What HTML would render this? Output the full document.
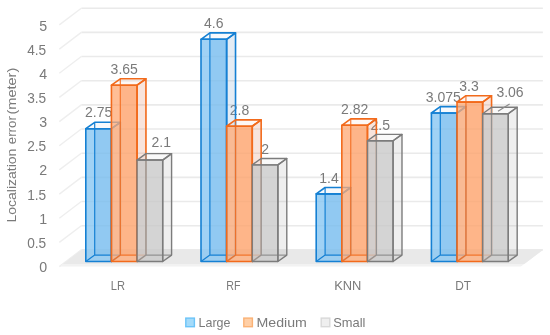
<!DOCTYPE html>
<html lang="en"><head><meta charset="utf-8"><title>Localization error chart</title>
<style>
html,body{margin:0;padding:0;background:#fff;}
body{width:550px;height:335px;overflow:hidden;}
svg{display:block;}
</style></head><body>
<svg width="550" height="335" viewBox="0 0 550 335">
<rect width="550" height="335" fill="#ffffff"/>
<g fill="none" stroke="#eaeaea" stroke-width="1.6">
<path d="M81.3,249.9 H542.9"/>
<path d="M59.3,266.6 L81.3,249.9" stroke="#eeeeee" stroke-width="1.4"/>
<path d="M81.3,225.73 H542.9"/>
<path d="M59.3,242.43 L81.3,225.73" stroke="#eeeeee" stroke-width="1.4"/>
<path d="M81.3,201.56 H542.9"/>
<path d="M59.3,218.26 L81.3,201.56" stroke="#eeeeee" stroke-width="1.4"/>
<path d="M81.3,177.39 H542.9"/>
<path d="M59.3,194.09 L81.3,177.39" stroke="#eeeeee" stroke-width="1.4"/>
<path d="M81.3,153.22 H542.9"/>
<path d="M59.3,169.92 L81.3,153.22" stroke="#eeeeee" stroke-width="1.4"/>
<path d="M81.3,129.05 H542.9"/>
<path d="M59.3,145.75 L81.3,129.05" stroke="#eeeeee" stroke-width="1.4"/>
<path d="M81.3,104.88 H542.9"/>
<path d="M59.3,121.58 L81.3,104.88" stroke="#eeeeee" stroke-width="1.4"/>
<path d="M81.3,80.71 H542.9"/>
<path d="M59.3,97.41 L81.3,80.71" stroke="#eeeeee" stroke-width="1.4"/>
<path d="M81.3,56.54 H542.9"/>
<path d="M59.3,73.24 L81.3,56.54" stroke="#eeeeee" stroke-width="1.4"/>
<path d="M81.3,32.37 H542.9"/>
<path d="M59.3,49.07 L81.3,32.37" stroke="#eeeeee" stroke-width="1.4"/>
<path d="M81.3,8.2 H542.9"/>
<path d="M59.3,24.9 L81.3,8.2" stroke="#eeeeee" stroke-width="1.4"/>
</g>
<polygon points="59.3,266.6 81.3,249.9 542.9,249.9 520.9,266.6" fill="#f2f2f2"/>
<polygon points="62.73,264 81.3,249.9 542.9,249.9 524.33,264" fill="#e9e9e9"/>
<g font-family='"Liberation Sans", sans-serif' font-size="14" fill="#7a7a7a" text-anchor="middle">
<text x="98.61" y="117.48">2.75</text>
<text x="124.24" y="74.01">3.65</text>
<text x="161.3" y="147.3">2.1</text>
<text x="213.81" y="28.12">4.6</text>
<text x="239.44" y="115.06">2.8</text>
<text x="265.07" y="153.7">2</text>
<text x="329.01" y="182.68">1.4</text>
<text x="354.64" y="114.09">2.82</text>
<text x="380.27" y="129.55">2.5</text>
<text x="443.32" y="101.78">3.075</text>
<text x="468.95" y="90.91">3.3</text>
<text x="510" y="97.3">3.06</text>
</g>
<g>
<polygon points="111.43,261.5 120.33,255.1 120.33,122.28 111.43,128.68" fill="rgba(120,160,200,0.20)"/>
<polygon points="85.8,128.68 111.43,128.68 120.33,122.28 94.7,122.28" fill="rgba(120,160,200,0.06)"/>
<polygon points="85.8,261.5 111.43,261.5 111.43,128.68 85.8,128.68" fill="rgba(130,196,242,0.76)"/>
<polygon points="94.7,255.1 111.43,255.1 111.43,128.68 94.7,128.68" fill="rgba(21,128,211,0.10)"/>
<path d="M94.7,122.28 V255.1 H120.33 M85.8,261.5 L94.7,255.1" fill="none" stroke="#1580d3" stroke-width="1.2" stroke-opacity="1"/>
<polygon points="111.43,261.5 120.33,255.1 120.33,122.28 111.43,128.68" fill="none" stroke="#1580d3" stroke-width="1.6" stroke-linejoin="round"/>
<polygon points="85.8,128.68 111.43,128.68 120.33,122.28 94.7,122.28" fill="none" stroke="#1580d3" stroke-width="1.6" stroke-linejoin="round"/>
<polygon points="85.8,261.5 111.43,261.5 111.43,128.68 85.8,128.68" fill="none" stroke="#1580d3" stroke-width="1.6" stroke-linejoin="round"/>
</g>
<g>
<polygon points="137.06,261.5 145.96,255.1 145.96,78.81 137.06,85.21" fill="rgba(220,120,80,0.20)"/>
<polygon points="111.43,85.21 137.06,85.21 145.96,78.81 120.33,78.81" fill="rgba(220,120,80,0.06)"/>
<polygon points="111.43,261.5 137.06,261.5 137.06,85.21 111.43,85.21" fill="rgba(255,170,117,0.76)"/>
<polygon points="120.33,255.1 137.06,255.1 137.06,85.21 120.33,85.21" fill="rgba(242,106,27,0.10)"/>
<path d="M120.33,78.81 V255.1 H145.96 M111.43,261.5 L120.33,255.1" fill="none" stroke="#f26a1b" stroke-width="1.2" stroke-opacity="0.85"/>
<polygon points="137.06,261.5 145.96,255.1 145.96,78.81 137.06,85.21" fill="none" stroke="#f26a1b" stroke-width="1.6" stroke-linejoin="round"/>
<polygon points="111.43,85.21 137.06,85.21 145.96,78.81 120.33,78.81" fill="none" stroke="#f26a1b" stroke-width="1.6" stroke-linejoin="round"/>
<polygon points="111.43,261.5 137.06,261.5 137.06,85.21 111.43,85.21" fill="none" stroke="#f26a1b" stroke-width="1.6" stroke-linejoin="round"/>
</g>
<g>
<polygon points="162.69,261.5 171.59,255.1 171.59,153.67 162.69,160.07" fill="rgba(155,155,155,0.16)"/>
<polygon points="137.06,160.07 162.69,160.07 171.59,153.67 145.96,153.67" fill="rgba(155,155,155,0.06)"/>
<polygon points="137.06,261.5 162.69,261.5 162.69,160.07 137.06,160.07" fill="rgba(198,198,198,0.76)"/>
<polygon points="145.96,255.1 162.69,255.1 162.69,160.07 145.96,160.07" fill="rgba(133,133,133,0.0)"/>
<path d="M145.96,153.67 V255.1 H171.59 M137.06,261.5 L145.96,255.1" fill="none" stroke="#939393" stroke-width="1.2" stroke-opacity="1"/>
<polygon points="162.69,261.5 171.59,255.1 171.59,153.67 162.69,160.07" fill="none" stroke="#7c7c7c" stroke-width="1.4" stroke-linejoin="round"/>
<polygon points="137.06,160.07 162.69,160.07 171.59,153.67 145.96,153.67" fill="none" stroke="#7c7c7c" stroke-width="1.4" stroke-linejoin="round"/>
<polygon points="137.06,261.5 162.69,261.5 162.69,160.07 137.06,160.07" fill="none" stroke="#7c7c7c" stroke-width="1.4" stroke-linejoin="round"/>
</g>
<g>
<polygon points="226.63,261.5 235.53,255.1 235.53,32.92 226.63,39.32" fill="rgba(120,160,200,0.20)"/>
<polygon points="201,39.32 226.63,39.32 235.53,32.92 209.9,32.92" fill="rgba(120,160,200,0.06)"/>
<polygon points="201,261.5 226.63,261.5 226.63,39.32 201,39.32" fill="rgba(130,196,242,0.76)"/>
<polygon points="209.9,255.1 226.63,255.1 226.63,39.32 209.9,39.32" fill="rgba(21,128,211,0.10)"/>
<path d="M209.9,32.92 V255.1 H235.53 M201,261.5 L209.9,255.1" fill="none" stroke="#1580d3" stroke-width="1.2" stroke-opacity="1"/>
<polygon points="226.63,261.5 235.53,255.1 235.53,32.92 226.63,39.32" fill="none" stroke="#1580d3" stroke-width="1.6" stroke-linejoin="round"/>
<polygon points="201,39.32 226.63,39.32 235.53,32.92 209.9,32.92" fill="none" stroke="#1580d3" stroke-width="1.6" stroke-linejoin="round"/>
<polygon points="201,261.5 226.63,261.5 226.63,39.32 201,39.32" fill="none" stroke="#1580d3" stroke-width="1.6" stroke-linejoin="round"/>
</g>
<g>
<polygon points="252.26,261.5 261.16,255.1 261.16,119.86 252.26,126.26" fill="rgba(220,120,80,0.20)"/>
<polygon points="226.63,126.26 252.26,126.26 261.16,119.86 235.53,119.86" fill="rgba(220,120,80,0.06)"/>
<polygon points="226.63,261.5 252.26,261.5 252.26,126.26 226.63,126.26" fill="rgba(255,170,117,0.76)"/>
<polygon points="235.53,255.1 252.26,255.1 252.26,126.26 235.53,126.26" fill="rgba(242,106,27,0.10)"/>
<path d="M235.53,119.86 V255.1 H261.16 M226.63,261.5 L235.53,255.1" fill="none" stroke="#f26a1b" stroke-width="1.2" stroke-opacity="0.85"/>
<polygon points="252.26,261.5 261.16,255.1 261.16,119.86 252.26,126.26" fill="none" stroke="#f26a1b" stroke-width="1.6" stroke-linejoin="round"/>
<polygon points="226.63,126.26 252.26,126.26 261.16,119.86 235.53,119.86" fill="none" stroke="#f26a1b" stroke-width="1.6" stroke-linejoin="round"/>
<polygon points="226.63,261.5 252.26,261.5 252.26,126.26 226.63,126.26" fill="none" stroke="#f26a1b" stroke-width="1.6" stroke-linejoin="round"/>
</g>
<g>
<polygon points="277.89,261.5 286.79,255.1 286.79,158.5 277.89,164.9" fill="rgba(155,155,155,0.16)"/>
<polygon points="252.26,164.9 277.89,164.9 286.79,158.5 261.16,158.5" fill="rgba(155,155,155,0.06)"/>
<polygon points="252.26,261.5 277.89,261.5 277.89,164.9 252.26,164.9" fill="rgba(198,198,198,0.76)"/>
<polygon points="261.16,255.1 277.89,255.1 277.89,164.9 261.16,164.9" fill="rgba(133,133,133,0.0)"/>
<path d="M261.16,158.5 V255.1 H286.79 M252.26,261.5 L261.16,255.1" fill="none" stroke="#939393" stroke-width="1.2" stroke-opacity="1"/>
<polygon points="277.89,261.5 286.79,255.1 286.79,158.5 277.89,164.9" fill="none" stroke="#7c7c7c" stroke-width="1.4" stroke-linejoin="round"/>
<polygon points="252.26,164.9 277.89,164.9 286.79,158.5 261.16,158.5" fill="none" stroke="#7c7c7c" stroke-width="1.4" stroke-linejoin="round"/>
<polygon points="252.26,261.5 277.89,261.5 277.89,164.9 252.26,164.9" fill="none" stroke="#7c7c7c" stroke-width="1.4" stroke-linejoin="round"/>
</g>
<g>
<polygon points="341.83,261.5 350.73,255.1 350.73,187.48 341.83,193.88" fill="rgba(120,160,200,0.20)"/>
<polygon points="316.2,193.88 341.83,193.88 350.73,187.48 325.1,187.48" fill="rgba(120,160,200,0.06)"/>
<polygon points="316.2,261.5 341.83,261.5 341.83,193.88 316.2,193.88" fill="rgba(130,196,242,0.76)"/>
<polygon points="325.1,255.1 341.83,255.1 341.83,193.88 325.1,193.88" fill="rgba(21,128,211,0.10)"/>
<path d="M325.1,187.48 V255.1 H350.73 M316.2,261.5 L325.1,255.1" fill="none" stroke="#1580d3" stroke-width="1.2" stroke-opacity="1"/>
<polygon points="341.83,261.5 350.73,255.1 350.73,187.48 341.83,193.88" fill="none" stroke="#1580d3" stroke-width="1.6" stroke-linejoin="round"/>
<polygon points="316.2,193.88 341.83,193.88 350.73,187.48 325.1,187.48" fill="none" stroke="#1580d3" stroke-width="1.6" stroke-linejoin="round"/>
<polygon points="316.2,261.5 341.83,261.5 341.83,193.88 316.2,193.88" fill="none" stroke="#1580d3" stroke-width="1.6" stroke-linejoin="round"/>
</g>
<g>
<polygon points="367.46,261.5 376.36,255.1 376.36,118.89 367.46,125.29" fill="rgba(220,120,80,0.20)"/>
<polygon points="341.83,125.29 367.46,125.29 376.36,118.89 350.73,118.89" fill="rgba(220,120,80,0.06)"/>
<polygon points="341.83,261.5 367.46,261.5 367.46,125.29 341.83,125.29" fill="rgba(255,170,117,0.76)"/>
<polygon points="350.73,255.1 367.46,255.1 367.46,125.29 350.73,125.29" fill="rgba(242,106,27,0.10)"/>
<path d="M350.73,118.89 V255.1 H376.36 M341.83,261.5 L350.73,255.1" fill="none" stroke="#f26a1b" stroke-width="1.2" stroke-opacity="0.85"/>
<polygon points="367.46,261.5 376.36,255.1 376.36,118.89 367.46,125.29" fill="none" stroke="#f26a1b" stroke-width="1.6" stroke-linejoin="round"/>
<polygon points="341.83,125.29 367.46,125.29 376.36,118.89 350.73,118.89" fill="none" stroke="#f26a1b" stroke-width="1.6" stroke-linejoin="round"/>
<polygon points="341.83,261.5 367.46,261.5 367.46,125.29 341.83,125.29" fill="none" stroke="#f26a1b" stroke-width="1.6" stroke-linejoin="round"/>
</g>
<g>
<polygon points="393.09,261.5 401.99,255.1 401.99,134.35 393.09,140.75" fill="rgba(155,155,155,0.16)"/>
<polygon points="367.46,140.75 393.09,140.75 401.99,134.35 376.36,134.35" fill="rgba(155,155,155,0.06)"/>
<polygon points="367.46,261.5 393.09,261.5 393.09,140.75 367.46,140.75" fill="rgba(198,198,198,0.76)"/>
<polygon points="376.36,255.1 393.09,255.1 393.09,140.75 376.36,140.75" fill="rgba(133,133,133,0.0)"/>
<path d="M376.36,134.35 V255.1 H401.99 M367.46,261.5 L376.36,255.1" fill="none" stroke="#939393" stroke-width="1.2" stroke-opacity="1"/>
<polygon points="393.09,261.5 401.99,255.1 401.99,134.35 393.09,140.75" fill="none" stroke="#7c7c7c" stroke-width="1.4" stroke-linejoin="round"/>
<polygon points="367.46,140.75 393.09,140.75 401.99,134.35 376.36,134.35" fill="none" stroke="#7c7c7c" stroke-width="1.4" stroke-linejoin="round"/>
<polygon points="367.46,261.5 393.09,261.5 393.09,140.75 367.46,140.75" fill="none" stroke="#7c7c7c" stroke-width="1.4" stroke-linejoin="round"/>
</g>
<g>
<polygon points="457.03,261.5 465.93,255.1 465.93,106.58 457.03,112.98" fill="rgba(120,160,200,0.20)"/>
<polygon points="431.4,112.98 457.03,112.98 465.93,106.58 440.3,106.58" fill="rgba(120,160,200,0.06)"/>
<polygon points="431.4,261.5 457.03,261.5 457.03,112.98 431.4,112.98" fill="rgba(130,196,242,0.76)"/>
<polygon points="440.3,255.1 457.03,255.1 457.03,112.98 440.3,112.98" fill="rgba(21,128,211,0.10)"/>
<path d="M440.3,106.58 V255.1 H465.93 M431.4,261.5 L440.3,255.1" fill="none" stroke="#1580d3" stroke-width="1.2" stroke-opacity="1"/>
<polygon points="457.03,261.5 465.93,255.1 465.93,106.58 457.03,112.98" fill="none" stroke="#1580d3" stroke-width="1.6" stroke-linejoin="round"/>
<polygon points="431.4,112.98 457.03,112.98 465.93,106.58 440.3,106.58" fill="none" stroke="#1580d3" stroke-width="1.6" stroke-linejoin="round"/>
<polygon points="431.4,261.5 457.03,261.5 457.03,112.98 431.4,112.98" fill="none" stroke="#1580d3" stroke-width="1.6" stroke-linejoin="round"/>
</g>
<g>
<polygon points="482.66,261.5 491.56,255.1 491.56,95.71 482.66,102.11" fill="rgba(220,120,80,0.20)"/>
<polygon points="457.03,102.11 482.66,102.11 491.56,95.71 465.93,95.71" fill="rgba(220,120,80,0.06)"/>
<polygon points="457.03,261.5 482.66,261.5 482.66,102.11 457.03,102.11" fill="rgba(255,170,117,0.76)"/>
<polygon points="465.93,255.1 482.66,255.1 482.66,102.11 465.93,102.11" fill="rgba(242,106,27,0.10)"/>
<path d="M465.93,95.71 V255.1 H491.56 M457.03,261.5 L465.93,255.1" fill="none" stroke="#f26a1b" stroke-width="1.2" stroke-opacity="0.85"/>
<polygon points="482.66,261.5 491.56,255.1 491.56,95.71 482.66,102.11" fill="none" stroke="#f26a1b" stroke-width="1.6" stroke-linejoin="round"/>
<polygon points="457.03,102.11 482.66,102.11 491.56,95.71 465.93,95.71" fill="none" stroke="#f26a1b" stroke-width="1.6" stroke-linejoin="round"/>
<polygon points="457.03,261.5 482.66,261.5 482.66,102.11 457.03,102.11" fill="none" stroke="#f26a1b" stroke-width="1.6" stroke-linejoin="round"/>
</g>
<g>
<polygon points="508.29,261.5 517.19,255.1 517.19,107.3 508.29,113.7" fill="rgba(155,155,155,0.16)"/>
<polygon points="482.66,113.7 508.29,113.7 517.19,107.3 491.56,107.3" fill="rgba(155,155,155,0.06)"/>
<polygon points="482.66,261.5 508.29,261.5 508.29,113.7 482.66,113.7" fill="rgba(198,198,198,0.76)"/>
<polygon points="491.56,255.1 508.29,255.1 508.29,113.7 491.56,113.7" fill="rgba(133,133,133,0.0)"/>
<path d="M491.56,107.3 V255.1 H517.19 M482.66,261.5 L491.56,255.1" fill="none" stroke="#939393" stroke-width="1.2" stroke-opacity="1"/>
<polygon points="508.29,261.5 517.19,255.1 517.19,107.3 508.29,113.7" fill="none" stroke="#7c7c7c" stroke-width="1.4" stroke-linejoin="round"/>
<polygon points="482.66,113.7 508.29,113.7 517.19,107.3 491.56,107.3" fill="none" stroke="#7c7c7c" stroke-width="1.4" stroke-linejoin="round"/>
<polygon points="482.66,261.5 508.29,261.5 508.29,113.7 482.66,113.7" fill="none" stroke="#7c7c7c" stroke-width="1.4" stroke-linejoin="round"/>
</g>
<line x1="498" y1="111.3" x2="509.6" y2="104" stroke="#8c8c8c" stroke-width="1.2"/>
<g font-family='"Liberation Sans", sans-serif' font-size="14.2" fill="#7a7a7a" text-anchor="end">
<text x="47.1" y="271.8">0</text>
<text x="46.2" y="247.71" textLength="19" lengthAdjust="spacingAndGlyphs">0.5</text>
<text x="47.1" y="223.62">1</text>
<text x="46.2" y="199.53" textLength="19" lengthAdjust="spacingAndGlyphs">1.5</text>
<text x="47.1" y="175.44">2</text>
<text x="46.2" y="151.35" textLength="19" lengthAdjust="spacingAndGlyphs">2.5</text>
<text x="47.1" y="127.26">3</text>
<text x="46.2" y="103.17" textLength="19" lengthAdjust="spacingAndGlyphs">3.5</text>
<text x="47.1" y="79.08">4</text>
<text x="46.2" y="54.99" textLength="19" lengthAdjust="spacingAndGlyphs">4.5</text>
<text x="47.1" y="30.9">5</text>
</g>
<g font-family='"Liberation Sans", sans-serif' font-size="13.2" fill="#7a7a7a">
<text transform="translate(16.3,222.5) rotate(-90)" textLength="73.9" lengthAdjust="spacingAndGlyphs">Localization</text>
<text transform="translate(16.3,144.2) rotate(-90)" textLength="28.0" lengthAdjust="spacingAndGlyphs">error</text>
<text transform="translate(16.3,114.5) rotate(-90)" textLength="46.8" lengthAdjust="spacingAndGlyphs">(meter)</text>
</g>
<g font-family='"Liberation Sans", sans-serif' font-size="13" fill="#7a7a7a" text-anchor="middle">
<text x="117.85" y="290.3" textLength="14.2" lengthAdjust="spacingAndGlyphs">LR</text>
<text x="233.35" y="290.3" textLength="14.2" lengthAdjust="spacingAndGlyphs">RF</text>
<text x="347.8" y="290.3" textLength="27.2" lengthAdjust="spacingAndGlyphs">KNN</text>
<text x="463.15" y="290.3" textLength="15.8" lengthAdjust="spacingAndGlyphs">DT</text>
</g>
<g font-family='"Liberation Sans", sans-serif' font-size="13" fill="#7a7a7a">
<rect x="185.8" y="318.1" width="8.6" height="8.6" fill="#a4dbfa" stroke="#6cc4f8" stroke-width="1.4"/>
<text x="198.6" y="326.5" textLength="31.9" lengthAdjust="spacingAndGlyphs">Large</text>
<rect x="243.8" y="318.1" width="8.6" height="8.6" fill="#ffcfa6" stroke="#fbb275" stroke-width="1.4"/>
<text x="256.6" y="326.5" textLength="50.3" lengthAdjust="spacingAndGlyphs">Medium</text>
<rect x="321.2" y="318.1" width="8.6" height="8.6" fill="#efefef" stroke="#d9d9d9" stroke-width="1.4"/>
<text x="333.2" y="326.5" textLength="32.2" lengthAdjust="spacingAndGlyphs">Small</text>
</g>
</svg>
</body></html>
